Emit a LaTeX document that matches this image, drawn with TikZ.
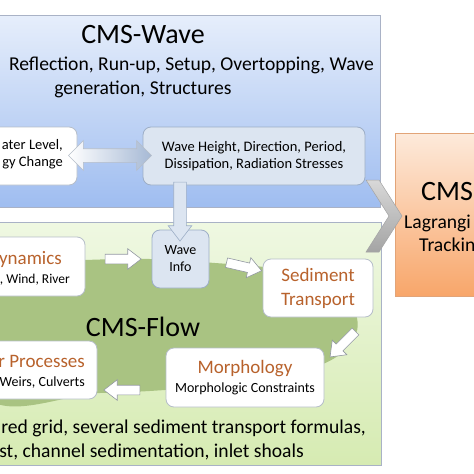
\documentclass[tikz,border=0pt]{standalone}
\usepackage{fontspec}
\setmainfont{Carlito}
\usepackage{xcolor}
\usetikzlibrary{positioning, shapes.arrows, calc}

\definecolor{wavetop}{HTML}{E6EEFB}
\definecolor{wavebot}{HTML}{9FBDF0}
\definecolor{flowtop}{HTML}{EFF8E2}
\definecolor{flowbot}{HTML}{D6EBB2}
\definecolor{ptmtop}{HTML}{FDEADB}
\definecolor{ptmbot}{HTML}{F8A66A}
\definecolor{ptmline}{HTML}{E2A478}
\definecolor{panelline}{HTML}{A9B2C6}
\definecolor{blobfill}{HTML}{A9C382}
\definecolor{boxline}{HTML}{B6BEC9}
\definecolor{infofill}{HTML}{DCE5F1}
\definecolor{infoline}{HTML}{9DAEC6}
\definecolor{dblfill}{HTML}{A6B9D5}
\definecolor{procol}{HTML}{B8622C}
\definecolor{chevtop}{HTML}{D8D8D8}
\definecolor{chevbot}{HTML}{A4A4A4}

\tikzset{
  panel/.style={draw=panelline, line width=0.7pt},
  wbox/.style={draw=boxline, fill=white, rounded corners=8pt, line width=0.8pt, inner sep=0pt},
  gbox/.style={wbox, fill=infofill, draw=infoline},
  txt/.style={inner sep=0pt},
  big/.style={font=\fontsize{28}{32}\selectfont},
  mid/.style={font=\fontsize{19.6}{24}\selectfont},
  small/.style={font=\fontsize{14.5}{17}\selectfont},
  warrow/.style={single arrow, draw=boxline!80!black, fill=white, line width=0.6pt,
    minimum height=36pt, inner xsep=0pt, inner ysep=4.5pt,
    single arrow head extend=5.5pt, single arrow tip angle=75},
}

\begin{document}
\begin{tikzpicture}[x=1pt, y=-1pt]
  \useasboundingbox (0,0) rectangle (474,474);
  \clip (0,0) rectangle (474,474);

  % panels
  \draw[panel, top color=wavetop, bottom color=wavebot] (-10,15) rectangle (380,207);
  \draw[panel, top color=flowtop, bottom color=flowbot] (-10,222) rectangle (381,465);
  \draw[panel, draw=ptmline, top color=ptmtop, bottom color=ptmbot] (395,133) rectangle (490,296);

  % CMS-Wave texts
  \node[txt, big] (wave-title) at (143,35) {CMS-Wave};
  \node[txt, mid, anchor=east] (wave-l1) at (374,65) {Reflection, Run-up, Setup, Overtopping, Wave};
  \node[txt, mid] (wave-l2) at (143,89) {generation, Structures};

  % wave boxes
  \node[wbox, minimum width=97pt, minimum height=58pt] (level) at (28.5,156) {};
  \node[txt, small, anchor=east, align=right] (level-t) at (63,154) {ater Level,\\gy Change};
  \node[gbox, small, align=center, minimum width=222pt, minimum height=58pt] (height) at (254,156)
    {Wave Height, Direction, Period,\\Dissipation, Radiation Stresses};
  \node[double arrow, draw=boxline, left color=white, right color=dblfill, line width=0.6pt,
    minimum height=83pt, inner xsep=0pt, inner ysep=6.5pt,
    double arrow head extend=8pt] (swap) at ($(level.east)!0.5!(height.west)+(0,-0.5)$) {};

  % flow blob
  \fill[blobfill] plot[smooth cycle, tension=0.7] coordinates {(-15,266) (60,261) (150,259)
    (215,263) (270,268) (335,282) (357,318) (348,345) (318,366) (250,383) (165,390)
    (100,393) (-15,396)};

  % flow boxes
  \node[gbox, align=center, font=\fontsize{14}{17}\selectfont, minimum width=57pt, minimum height=58pt]
    (info) at (180.5,259) {Wave\\Info};
  \node[warrow, fill=infofill, draw=infoline, rotate=-90, minimum height=59pt, inner ysep=6pt]
    (down) at (180,207.5) {};
  \node[wbox, minimum width=105pt, minimum height=59pt] (hydro) at (32.5,266.5) {};
  \node[txt, anchor=east, text=procol, font=\fontsize{19}{24}\selectfont] (hydro-a) at (62,259) {ynamics};
  \node[txt, anchor=east, font=\fontsize{13.5}{17}\selectfont] (hydro-b) at (70,280) {, Wind, River};
  \node[wbox, align=center, text=procol, font=\fontsize{19}{24}\selectfont, minimum width=110pt,
    minimum height=58pt] (sed) at (318,288) {Sediment\\Transport};
  \node[wbox, minimum width=117pt, minimum height=58pt] (proc) at (38.5,370) {};
  \node[txt, anchor=east, align=right, font=\fontsize{14}{19}\selectfont] (proc-t) at (85,372)
    {{\color{procol}\fontsize{19}{19}\selectfont r Processes}\\Weirs, Culverts};
  \node[wbox, align=center, font=\fontsize{14}{19}\selectfont, minimum width=158pt, minimum height=59pt]
    (morph) at (245,377.5) {{\color{procol}\fontsize{19}{19}\selectfont Morphology}\\Morphologic Constraints};

  % loop arrows
  \node[warrow] (a1) at (120,259) {};
  \node[warrow, rotate=-13] (a2) at (241,266) {};
  \node[warrow, rotate=-135] (a3) at (345,342) {};
  \node[warrow, rotate=180] (a4) at (125,390) {};

  % CMS-Flow texts
  \node[txt, big] (flow-title) at (143,327) {CMS-Flow};
  \node[txt, mid, anchor=east] (flow-l1) at (366,428) {red grid, several sediment transport formulas,};
  \node[txt, mid, anchor=east] (flow-l2) at (304,452) {st, channel sedimentation, inlet shoals};

  % chevron to PTM
  \draw[draw=chevbot, top color=chevtop, bottom color=chevbot, line width=0.5pt]
    (366,180) -- (379,180) -- (402,216) -- (379,252) -- (366,252) -- (389,216) -- cycle;

  % CMS-PTM texts
  \node[txt, big, anchor=west] (ptm-title) at (421,192) {CMS};
  \node[txt, mid, anchor=west] (ptm-l1) at (404,223) {Lagrangi};
  \node[txt, mid, anchor=west] (ptm-l2) at (419,245) {Trackin};
\end{tikzpicture}
\end{document}
